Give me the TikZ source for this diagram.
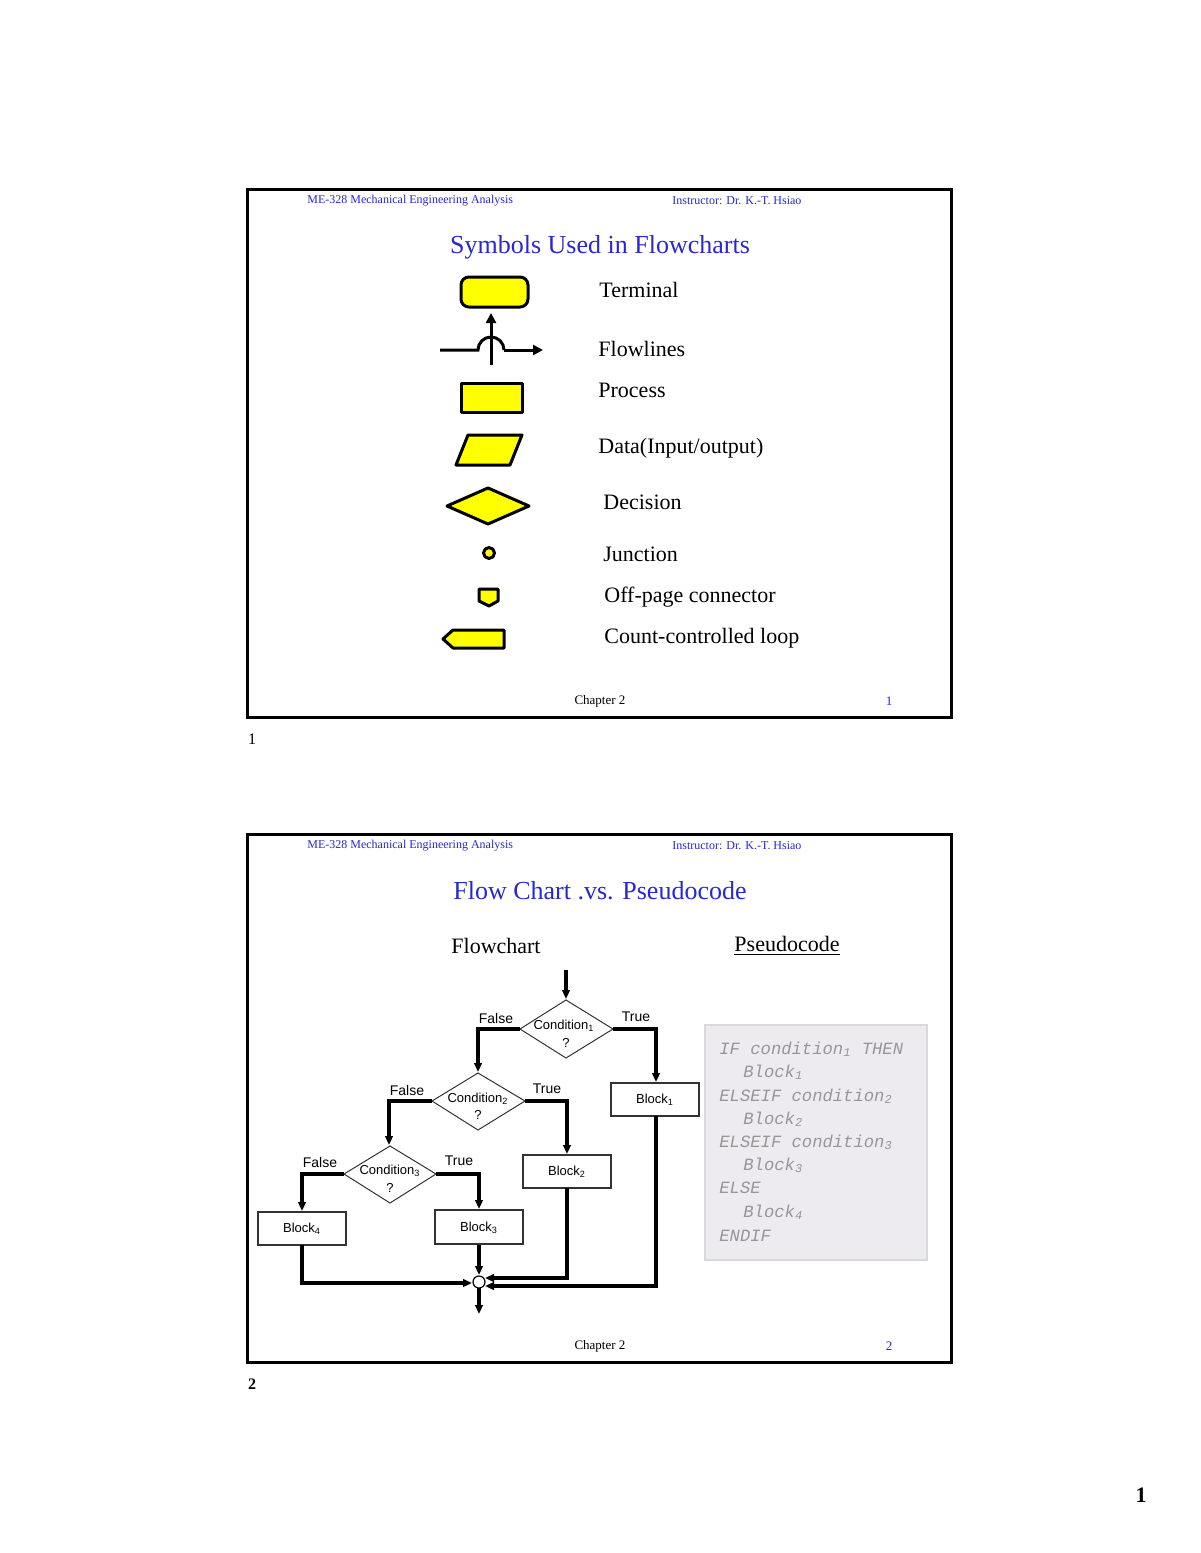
\documentclass[tikz,border=0pt]{standalone}
\usepackage{fontspec}
\setmainfont{Liberation Serif}
\newfontfamily\fcsans{Liberation Sans}
\newfontfamily\pcmono{Liberation Mono}
\usetikzlibrary{arrows.meta}
\definecolor{ttlblue}{RGB}{40,40,210}
\definecolor{symyellow}{RGB}{255,255,0}
\definecolor{pcgray}{RGB}{150,150,150}
\definecolor{pcback}{RGB}{238,235,240}
\begin{document}
\begin{tikzpicture}[x=0.5pt,y=-0.5pt,
  frame/.style={draw=black,line width=1.5pt},
  hdr/.style={text=ttlblue,font=\fontsize{6}{7}\selectfont,anchor=west,inner sep=0},
  ttl/.style={text=ttlblue,font=\fontsize{13}{15}\selectfont,inner sep=0},
  lbl/.style={font=\fontsize{11}{13}\selectfont,anchor=west,inner sep=0},
  sym/.style={draw=black,fill=symyellow,line width=1.5pt,line join=round},
  fl/.style={line width=1.5pt,-{Triangle[length=5pt,width=5pt]}},
  fca/.style={line width=1.8pt,-{Triangle[length=4.5pt,width=3.8pt]}},
  dia/.style={draw=black!80,line width=0.5pt},
  blk/.style={draw=black!80,line width=0.6pt,fill=white},
  fct/.style={font=\fcsans\fontsize{6.5}{7.5}\selectfont,inner sep=0},
  pc/.style={font=\pcmono\itshape\fontsize{8.6}{10}\selectfont,text=pcgray,anchor=west,inner sep=0}
]
\useasboundingbox[fill=white] (0,0) rectangle (1200,1553);
% ---------- slide 1
\draw[frame] (247,189) rectangle (951,717);
\node[hdr] (h1a) at (307,201) {ME-328 Mechanical Engineering Analysis};
\node[hdr] (h1b) at (672,201) {Instructor: Dr. K.-T. Hsiao};
\node[ttl] (t1) at (600,247) {Symbols Used in Flowcharts};
\draw[sym,rounded corners=4pt] (461,277) rectangle (528,307);
\draw[line width=1.5pt] (440,350) -- (478,350) arc[start angle=180,end angle=360,radius=13] ;
\draw[fl] (504,350) -- (543,350);
\draw[fl] (491,365) -- (491,313);
\draw[sym] (461,383) rectangle (522,412);
\draw[sym] (456,465) -- (468,435) -- (522,435) -- (510,465) -- cycle;
\draw[sym] (447,506) -- (488,488) -- (529,506) -- (488,524) -- cycle;
\draw[sym] (489,553) circle[radius=5.5];
\draw[sym] (479,589) -- (498,589) -- (498,601) -- (489,606) -- (479,601) -- cycle;
\draw[sym] (443,639) -- (453,630) -- (504,630) -- (504,648) -- (453,648) -- cycle;
\node[lbl] (l1) at (599,290) {Terminal};
\node[lbl] (l2) at (598,349) {Flowlines};
\node[lbl] (l3) at (598,390) {Process};
\node[lbl] (l4) at (598,448) {Data(Input/output)};
\node[lbl] (l5) at (603,502) {Decision};
\node[lbl] (l6) at (603,554) {Junction};
\node[lbl] (l7) at (604,597) {Off-page connector};
\node[lbl] (l8) at (604,638) {Count-controlled loop};
\node[font=\fontsize{6.5}{7}\selectfont,inner sep=0] (c1) at (600,701) {Chapter 2};
\node[text=ttlblue,font=\fontsize{6.5}{7}\selectfont,inner sep=0] (n1) at (889,701) {1};
\node[font=\fontsize{8}{9}\selectfont,inner sep=0] (p1) at (252,739) {1};
% ---------- slide 2
\draw[frame] (247,834) rectangle (951,1362);
\node[hdr] (h2a) at (307,846) {ME-328 Mechanical Engineering Analysis};
\node[hdr] (h2b) at (672,846) {Instructor: Dr. K.-T. Hsiao};
\node[ttl] (t2) at (600,891) {Flow Chart .vs. Pseudocode};
\node[font=\fontsize{11}{13}\selectfont,inner sep=0] (fch) at (496,946) {Flowchart};
\node[font=\fontsize{11}{13}\selectfont,inner sep=0] (psh) at (787,946) {\underline{Pseudocode}};
% flowchart
\coordinate (top) at (566,970);
\draw[dia] (520,1029) -- (566,1000) -- (613,1029) -- (566,1058) -- cycle;
\node[fct] (d1a) at (564,1026) {Condition\textsubscript{1}};
\node[fct] (d1b) at (566,1043) {?};
\draw[dia] (432,1101) -- (478,1073) -- (525,1101) -- (478,1130) -- cycle;
\node[fct] (d2a) at (478,1099) {Condition\textsubscript{2}};
\node[fct] (d2b) at (478,1115) {?};
\draw[dia] (344,1174) -- (390,1146) -- (436,1174) -- (390,1203) -- cycle;
\node[fct] (d3a) at (390,1171) {Condition\textsubscript{3}};
\node[fct] (d3b) at (390,1188) {?};
\draw[blk] (611,1083) rectangle (699,1116);
\node[fct] (b1) at (655,1100) {Block\textsubscript{1}};
\draw[blk] (523,1155) rectangle (611,1188);
\node[fct] (b2) at (567,1172) {Block\textsubscript{2}};
\draw[blk] (435,1210) rectangle (523,1244);
\node[fct] (b3) at (479,1228) {Block\textsubscript{3}};
\draw[blk] (258,1212) rectangle (346,1245);
\node[fct] (b4) at (302,1229) {Block\textsubscript{4}};
\draw[line width=0.6pt] (479,1282) circle[radius=6];
\draw[fca] (top) -- (566,999);
\draw[fca] (520,1029) -- (478,1029) -- (478,1072);
\draw[fca] (613,1029) -- (656,1029) -- (656,1082);
\draw[fca] (432,1101) -- (389,1101) -- (389,1145);
\draw[fca] (525,1101) -- (567,1101) -- (567,1154);
\draw[fca] (344,1174) -- (302,1174) -- (302,1211);
\draw[fca] (436,1174) -- (479,1174) -- (479,1209);
\draw[fca] (479,1245) -- (479,1275);
\draw[fca] (302,1245) -- (302,1283) -- (472,1283);
\draw[fca] (567,1188) -- (567,1278) -- (485,1278);
\draw[fca] (656,1116) -- (656,1286) -- (485,1286);
\draw[fca] (479,1288) -- (479,1314);
\node[fct,font=\fcsans\fontsize{7}{8}\selectfont] (f1) at (496,1018) {False};
\node[fct,font=\fcsans\fontsize{7}{8}\selectfont] (tr1) at (636,1017) {True};
\node[fct,font=\fcsans\fontsize{7}{8}\selectfont] (f2) at (407,1090) {False};
\node[fct,font=\fcsans\fontsize{7}{8}\selectfont] (tr2) at (547,1089) {True};
\node[fct,font=\fcsans\fontsize{7}{8}\selectfont] (f3) at (320,1162) {False};
\node[fct,font=\fcsans\fontsize{7}{8}\selectfont] (tr3) at (459,1161) {True};
% pseudocode
\draw[draw=black!15,fill=pcback,line width=0.8pt] (705,1025) rectangle (927,1260);
\node[pc] (q1) at (719,1049) {IF condition\textsubscript{1} THEN};
\node[pc] (q2) at (743,1072) {Block\textsubscript{1}};
\node[pc] (q3) at (719,1096) {ELSEIF condition\textsubscript{2}};
\node[pc] (q4) at (743,1119) {Block\textsubscript{2}};
\node[pc] (q5) at (719,1142) {ELSEIF condition\textsubscript{3}};
\node[pc] (q6) at (743,1165) {Block\textsubscript{3}};
\node[pc] (q7) at (719,1188) {ELSE};
\node[pc] (q8) at (743,1212) {Block\textsubscript{4}};
\node[pc] (q9) at (719,1236) {ENDIF};
\node[font=\fontsize{6.5}{7}\selectfont,inner sep=0] (c2) at (600,1346) {Chapter 2};
\node[text=ttlblue,font=\fontsize{6.5}{7}\selectfont,inner sep=0] (n2) at (889,1346) {2};
\node[font=\bfseries\fontsize{8}{9}\selectfont,inner sep=0] (p2) at (252,1384) {2};
\node[font=\bfseries\fontsize{11}{12}\selectfont,inner sep=0] (pg) at (1141,1495) {1};
\end{tikzpicture}
\end{document}
